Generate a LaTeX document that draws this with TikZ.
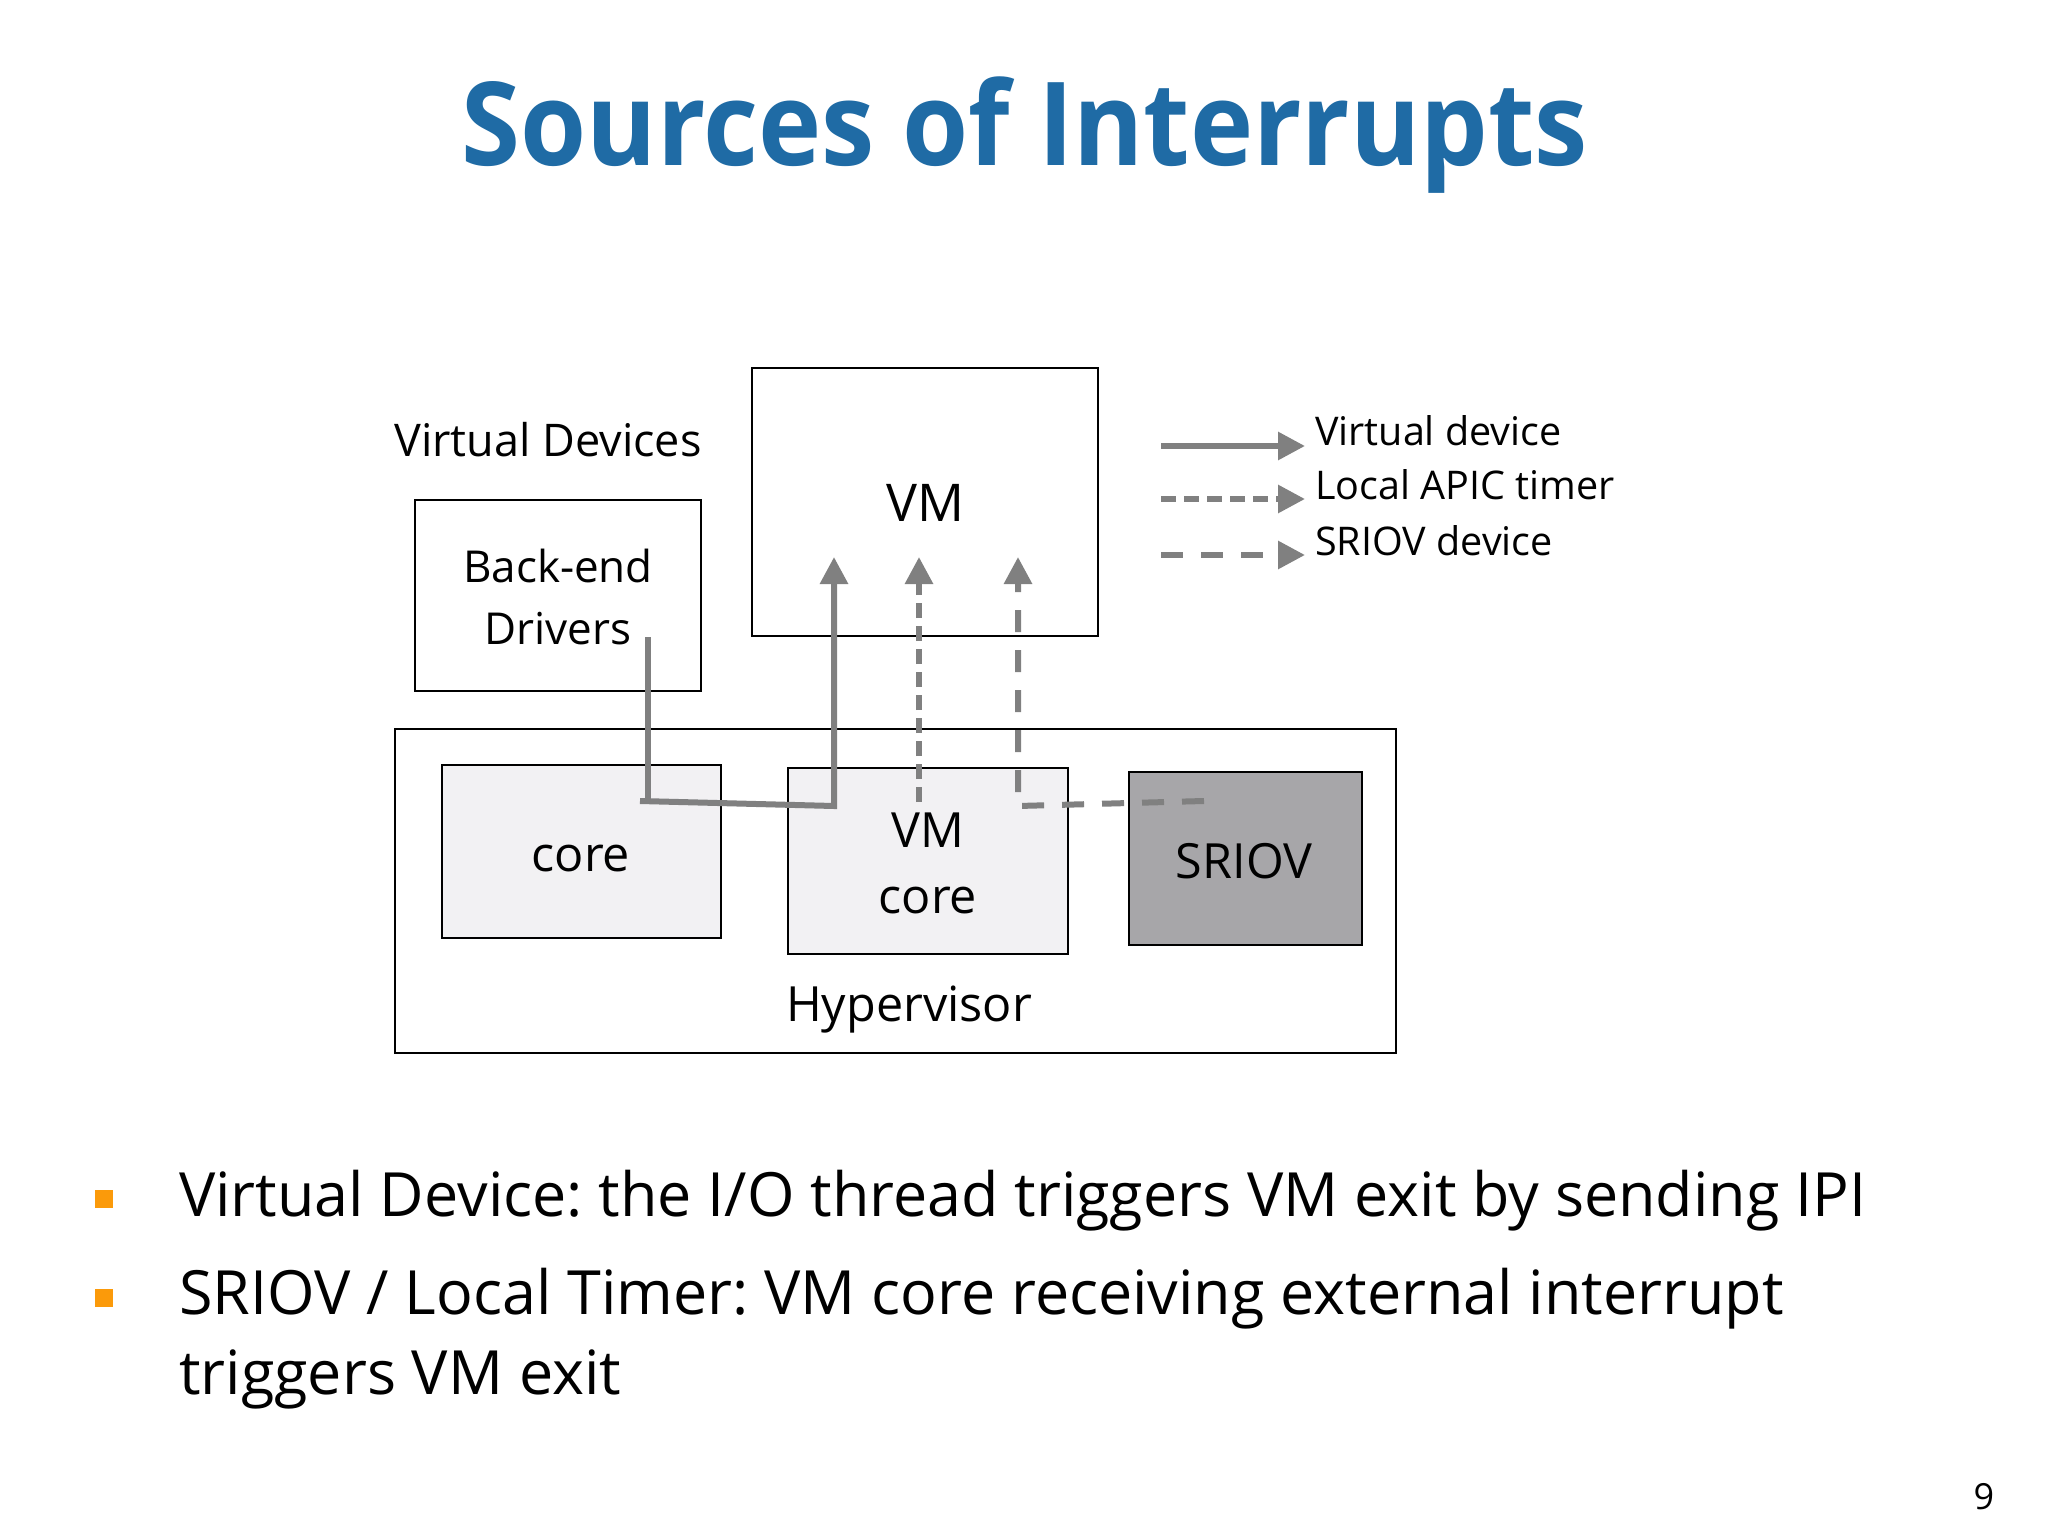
\documentclass[tikz,border=0pt]{standalone}
\usepackage{fontspec}
\setmainfont{Open Sans}
\usepackage{tikz}
\usetikzlibrary{arrows.meta}
\frenchspacing

\definecolor{TitleBlue}{HTML}{1F6BA5}
\definecolor{CoreGray}{HTML}{F2F1F3}
\definecolor{SriovGray}{HTML}{A7A6A9}
\definecolor{LinkGray}{HTML}{808080}
\definecolor{BulletOrange}{HTML}{FB9A0A}

\newcommand{\fontTitle}{\fontsize{116}{130}\selectfont\bfseries}
\newcommand{\fontDiag}{\fontsize{48.5}{58}\selectfont}
\newcommand{\fontLegend}{\fontsize{39.5}{46}\selectfont}
\newcommand{\fontBullet}{\fontsize{61}{80}\selectfont}

\tikzset{
    box/.style={draw=black, line width=2.2pt, inner sep=0pt},
    corebox/.style={box, fill=CoreGray},
    lbl/.style={inner sep=0pt, anchor=base, font=\fontDiag},
    legendlbl/.style={inner sep=0pt, anchor=base west, font=\fontLegend},
    vdlink/.style={draw=LinkGray, line width=6pt, -{Triangle[length=27pt,width=27pt]}},
    timerlink/.style={vdlink, dash pattern=on 15pt off 8pt},
    sriovlink/.style={vdlink, dash pattern=on 22pt off 18pt},
    bulletsq/.style={fill=BulletOrange, minimum size=18pt, inner sep=0pt},
    bullettext/.style={inner sep=0pt, anchor=base west, font=\fontBullet}
}

\begin{document}
\begin{tikzpicture}[x=1pt, y=-1pt]
    \useasboundingbox [fill=white] (0,0) rectangle (2048,1536);

    % title
    \node [inner sep=0pt, anchor=base, text=TitleBlue, font=\fontTitle] (title) at (1025,165) {\scalebox{0.922}[1]{Sources of Interrupts}};

    % boxes
    \node [box, minimum width=346pt, minimum height=268pt] (vm) at (925,502) {};
    \node [box, minimum width=286pt, minimum height=191pt] (backend) at (558,595.5) {};
    \node [box, minimum width=1001pt, minimum height=324pt] (hyper) at (895.5,891) {};
    \node [corebox, minimum width=279pt, minimum height=173pt] (core) at (581.5,851.5) {};
    \node [corebox, minimum width=280pt, minimum height=186pt] (vmcore) at (928,861) {};
    \node [box, fill=SriovGray, minimum width=233pt, minimum height=173pt] (sriov) at (1245.5,858.5) {};

    % labels
    \node [lbl, font=\fontsize{45}{54}\selectfont] (vdevlbl) at (548,456) {Virtual Devices};
    \node [lbl, font=\fontsize{52}{60}\selectfont] (vmlbl) at (925,521) {VM};
    \node [lbl, font=\fontsize{44}{54}\selectfont] (backlbl) at (558,582) {Back-end};
    \node [lbl, font=\fontsize{44}{54}\selectfont] (drvlbl) at (558,644) {Drivers};
    \node [lbl] (corelbl) at (581,871) {core};
    \node [lbl] (vmcorelblA) at (928,847) {VM};
    \node [lbl] (vmcorelblB) at (928,913) {core};
    \node [lbl] (sriovlbl) at (1244,878) {SRIOV};
    \node [lbl] (hyperlbl) at (909,1021) {Hypervisor};

    % for virtual device
    \coordinate (vdFrom) at (648,637);
    \coordinate (vdBendA) at (648,801);
    \coordinate (vdStub) at (640,801);
    \coordinate (vdBendB) at (834,806);
    \coordinate (vdTo) at (834,557);
    \draw [vdlink, -] (vdFrom) -- (vdBendA);
    \draw [vdlink] (vdStub) -- (vdBendB) -- (vdTo);

    % for local APIC timer
    \coordinate (tmFrom) at (919,802);
    \coordinate (tmTo) at (919,557);
    \draw [timerlink] (tmFrom) -- (tmTo);

    % for SRIOV
    \coordinate (srFrom) at (1204,801);
    \coordinate (srBend) at (1018,806);
    \coordinate (srTo) at (1018,557);
    \draw [sriovlink] (srFrom) -- (srBend) -- (srTo);

    % legend
    \node [legendlbl] (lgVd) at (1315,445) {Virtual device};
    \node [legendlbl] (lgTm) at (1315,499) {Local APIC timer};
    \node [legendlbl] (lgSr) at (1315,555) {SRIOV device};
    \coordinate (lgVdFrom) at (1161,446);
    \coordinate (lgVdTo) at (1305,446);
    \coordinate (lgTmFrom) at (1161,499);
    \coordinate (lgTmTo) at (1305,499);
    \coordinate (lgSrFrom) at (1161,555);
    \coordinate (lgSrTo) at (1305,555);
    \draw [vdlink] (lgVdFrom) -- (lgVdTo);
    \draw [timerlink] (lgTmFrom) -- (lgTmTo);
    \draw [sriovlink] (lgSrFrom) -- (lgSrTo);

    % bullets
    \node [bulletsq] (bulA) at (104,1199) {};
    \node [bulletsq] (bulB) at (104,1297.5) {};
    \node [bullettext] (txtA) at (179,1216) {Virtual Device: the I/O thread triggers VM exit by sending IPI};
    \node [bullettext] (txtB) at (179,1314) {SRIOV / Local Timer: VM core receiving external interrupt};
    \node [bullettext] (txtC) at (179,1394) {triggers VM exit};

    % page number
    \node [inner sep=0pt, anchor=base, font=\fontsize{36}{40}\selectfont] (pagenum) at (1984,1509) {9};
\end{tikzpicture}
\end{document}
